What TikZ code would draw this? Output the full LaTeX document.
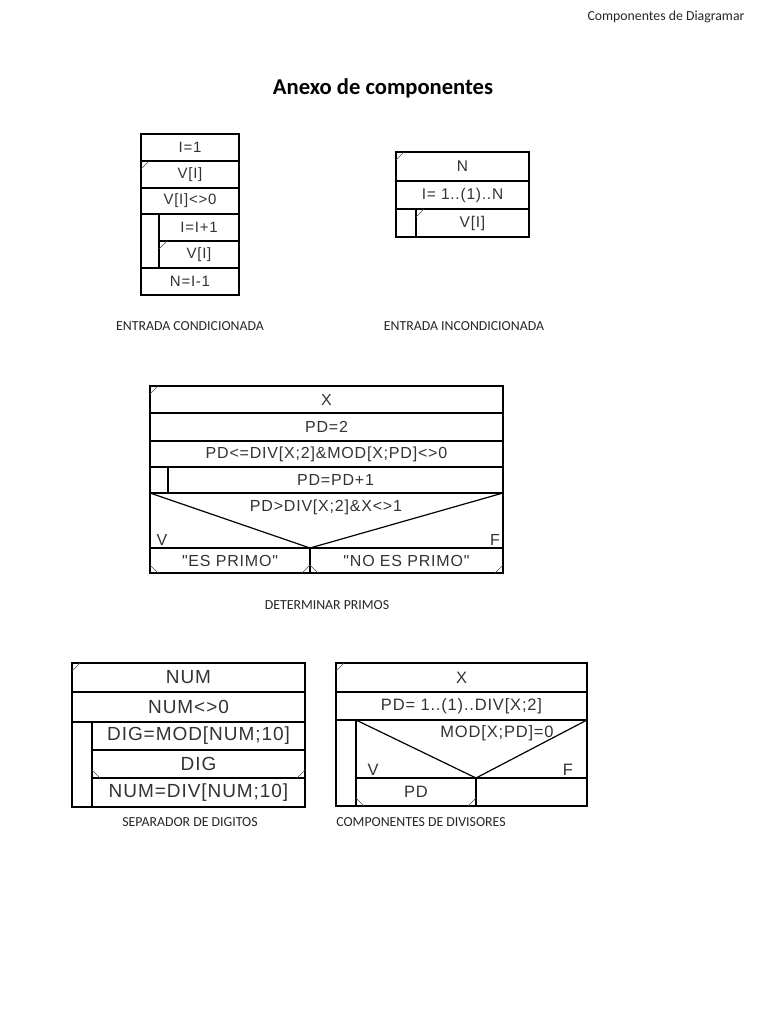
\documentclass[tikz,border=0pt]{standalone}
\usepackage{fontspec}
\setmainfont{Carlito}
\newfontfamily\boxfont[LetterSpace=5]{Liberation Sans}
\usetikzlibrary{positioning}

\begin{document}
\begin{tikzpicture}[x=1pt,y=-1pt,line width=1.2pt]
       \tikzstyle{cell}=[draw,rectangle,inner sep=0pt,outer sep=0pt,text=black!80]
       \tikzstyle{caption}=[font=\fontsize{13.8}{16}\selectfont,text=black!85]
       \tikzstyle{tick}=[line width=0.6pt,black!70]

       \useasboundingbox[fill=white] (0,0) rectangle (768,1024);

       \node[caption] (header) at (666,17) {Componentes de Diagramar};
       \node[font=\bfseries\fontsize{22.6}{26}\selectfont] (title) at (383,88) {Anexo de componentes};

       % entrada condicionada
       \begin{scope}[font=\boxfont\fontsize{15}{17}\selectfont]
       \node[cell, minimum width=98, minimum height=27, anchor=north west] (c11) at (141,134) {I=1};
       \node[cell, minimum width=98, minimum height=27, below=0pt of c11] (c12) {V[I]};
       \node[cell, minimum width=98, minimum height=26, below=0pt of c12] (c13) {V[I]<>0};
       \node[cell, minimum width=80, minimum height=27, anchor=north east] (c14) at (c13.south east) {I=I+1};
       \node[cell, minimum width=80, minimum height=27, below=0pt of c14] (c15) {V[I]};
       \node[cell, minimum width=98, minimum height=27, anchor=north east] (c16) at (c15.south east) {N=I-1};
       \draw (c13.south west) -- (c16.north west);
       \end{scope}
       \node[caption] (cap1) at (190,326) {ENTRADA CONDICIONADA};

       % entrada incondicionada
       \begin{scope}[font=\boxfont\fontsize{15.5}{17}\selectfont]
       \node[cell, minimum width=133, minimum height=29, anchor=north west] (c21) at (396,152) {N};
       \node[cell, minimum width=133, minimum height=28, below=0pt of c21] (c22) {I= 1..(1)..N};
       \node[cell, minimum width=113, minimum height=28, anchor=north east] (c23) at (c22.south east) {V[I]};
       \draw (c22.south west) |- (c23.south west);
       \end{scope}
       \node[caption] (cap2) at (464,326) {ENTRADA INCONDICIONADA};

       % determinar primos
       \begin{scope}[font=\boxfont\fontsize{16}{18}\selectfont]
       \node[cell, minimum width=353, minimum height=27, anchor=north west] (c31) at (150,386) {X};
       \node[cell, minimum width=353, minimum height=28, below=0pt of c31] (c32) {PD=2};
       \node[cell, minimum width=353, minimum height=26, below=0pt of c32] (c33) {PD<=DIV[X;2]\&MOD[X;PD]<>0};
       \node[cell, minimum width=335, minimum height=26, anchor=north east] (c34) at (c33.south east) {PD=PD+1};
       \node[cell, minimum width=353, minimum height=55, anchor=north east] (d3) at (c34.south east) {};
       \draw (c33.south west) -- (d3.north west);
       \coordinate (m3) at (310,548);
       \draw (d3.north west) -- (m3) -- (d3.north east);
       \node[text=black!80] (t3) at (326,507) {PD>DIV[X;2]\&X<>1};
       \node[text=black!80] (v3) at (162,540) {V};
       \node[text=black!80] (f3) at (495,540) {F};
       \node[cell, minimum width=160, minimum height=25, anchor=north west] (c36) at (d3.south west) {"ES PRIMO"};
       \node[cell, minimum width=193, minimum height=25, anchor=north west] (c37) at (c36.north east) {"NO ES PRIMO"};
       \end{scope}
       \node[caption] (cap3) at (327,605) {DETERMINAR PRIMOS};

       % separador de digitos
       \begin{scope}[font=\boxfont\fontsize{19}{21}\selectfont]
       \node[cell, minimum width=233, minimum height=29, anchor=north west] (c41) at (72,663) {NUM};
       \node[cell, minimum width=233, minimum height=30, below=0pt of c41] (c42) {NUM<>0};
       \node[cell, minimum width=213, minimum height=28, anchor=north east] (c43) at (c42.south east) {DIG=MOD[NUM;10]};
       \node[cell, minimum width=213, minimum height=28, below=0pt of c43] (c44) {DIG};
       \node[cell, minimum width=213, minimum height=29, below=0pt of c44] (c45) {NUM=DIV[NUM;10]};
       \draw (c42.south west) |- (c45.south west);
       \end{scope}
       \node[caption] (cap4) at (190,822) {SEPARADOR DE DIGITOS};

       % componentes de divisores
       \begin{scope}[font=\boxfont\fontsize{16.5}{19}\selectfont]
       \node[cell, minimum width=251, minimum height=29, anchor=north west] (c51) at (336,663) {X};
       \node[cell, minimum width=251, minimum height=28, below=0pt of c51] (c52) {PD= 1..(1)..DIV[X;2]};
       \node[cell, minimum width=231, minimum height=58, anchor=north east] (d5) at (c52.south east) {};
       \coordinate (m5) at (476,778);
       \draw (d5.north west) -- (m5) -- (d5.north east);
       \node[text=black!80] (t5) at (497,733) {MOD[X;PD]=0};
       \node[text=black!80] (v5) at (373,770) {V};
       \node[text=black!80] (f5) at (568,770) {F};
       \node[cell, minimum width=120, minimum height=28, anchor=north west] (c53) at (d5.south west) {PD};
       \node[cell, minimum width=111, minimum height=28, anchor=north west] (c54) at (c53.north east) {};
       \draw (c52.south west) |- (c53.south west);
       \end{scope}
       \node[caption] (cap5) at (421,822) {COMPONENTES DE DIVISORES};

       % entrada y salida
       \foreach \n in {c12,c15,c21,c23,c31,c41,c51}
              \draw[tick] (\n.north west) ++(0,8) -- ++(8,-8);
       \foreach \n in {c36,c37,c44,c53} {
              \draw[tick] (\n.south west) ++(0,-8) -- ++(8,8);
              \draw[tick] (\n.south east) ++(0,-8) -- ++(-8,8);
       }
\end{tikzpicture}
\end{document}
